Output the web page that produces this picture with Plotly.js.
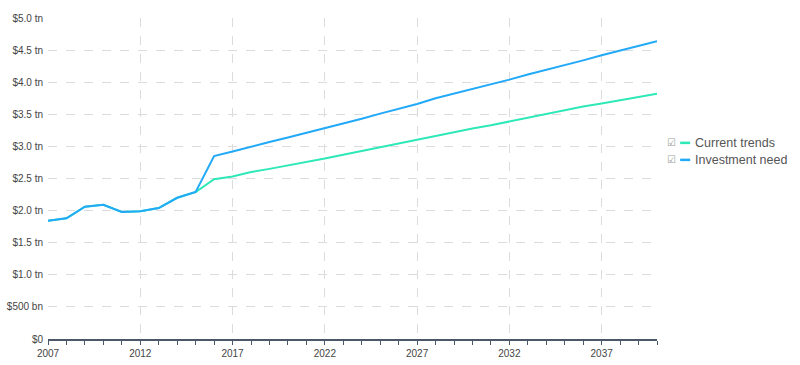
<!DOCTYPE html>
<html><head><meta charset="utf-8">
<script src="https://cdn.plot.ly/plotly-3.0.1.min.js"></script>
<style>body{margin:0;background:#fff}#c{width:800px;height:365px}</style>
</head><body><div id="c"></div>
<script>
const years = [2007,2008,2009,2010,2011,2012,2013,2014,2015,2016,2017,2018,2019,2020,2021,2022,2023,2024,2025,2026,2027,2028,2029,2030,2031,2032,2033,2034,2035,2036,2037,2038,2039,2040];
const currentTrends = [1.84,1.88,2.06,2.09,1.98,1.99,2.04,2.20,2.29,2.49,2.53,2.60,2.65,2.70,2.75,2.81,2.87,2.93,2.98,3.04,3.10,3.17,3.22,3.28,3.33,3.39,3.45,3.51,3.56,3.62,3.67,3.72,3.77,3.82];
const investmentNeed = [1.84,1.88,2.06,2.09,1.98,1.99,2.04,2.20,2.29,2.85,2.92,3.00,3.07,3.14,3.21,3.28,3.36,3.43,3.51,3.58,3.66,3.75,3.82,3.89,3.97,4.04,4.12,4.19,4.27,4.34,4.42,4.49,4.57,4.64];
const yTickVals = [0,0.5,1,1.5,2,2.5,3,3.5,4,4.5,5];
const yTickText = ["$0","$500 bn","$1.0 tn","$1.5 tn","$2.0 tn","$2.5 tn","$3.0 tn","$3.5 tn","$4.0 tn","$4.5 tn","$5.0 tn"];
const xTickVals = [2007,2012,2017,2022,2027,2032,2037];
const seriesNames = ["Current trends","Investment need"];
const seriesColors = ["#2ee8b8","#22a9f7"];

const traces = [
  {x: years, y: currentTrends, name: seriesNames[0], type:'scatter', mode:'lines', line:{color:seriesColors[0], width:2}},
  {x: years, y: investmentNeed, name: seriesNames[1], type:'scatter', mode:'lines', line:{color:seriesColors[1], width:2}}
];

const legY = [0.611, 0.558];
const shapes = [];
const annotations = [];
seriesNames.forEach((n,i)=>{
  shapes.push({type:'line', xref:'paper', yref:'paper', x0:1.038, x1:1.0545, y0:legY[i], y1:legY[i], line:{color:seriesColors[i], width:2.5}});
  annotations.push({xref:'paper', yref:'paper', x:1.0235, y:legY[i], text:'☑', showarrow:false, xanchor:'center', yanchor:'middle', font:{family:'DejaVu Sans', size:10, color:'#999'}});
  annotations.push({xref:'paper', yref:'paper', x:1.059, y:legY[i], text:n, showarrow:false, xanchor:'left', yanchor:'middle', font:{family:'Liberation Sans, Arial', size:12.5, color:'#555'}});
});

const layout = {
  width:800, height:365,
  margin:{l:48, r:143, t:18, b:26},
  paper_bgcolor:'#fff', plot_bgcolor:'#fff',
  showlegend:false,
  font:{family:'Liberation Sans, Arial', size:10, color:'#444'},
  xaxis:{range:[2007,2040], tickvals:xTickVals, ticktext:xTickVals.map(String),
    showgrid:true, gridcolor:'#dcdcdc', griddash:'dash', gridwidth:1,
    zeroline:false, showline:true, linecolor:'#4a5868', linewidth:1.5,
    ticks:'outside', ticklen:4, tickcolor:'#4a5868',
    minor:{dtick:1, ticks:'outside', ticklen:4, tickcolor:'#4a5868', showgrid:false},
    tickfont:{size:10, color:'#444'}},
  yaxis:{range:[0,5], tickvals:yTickVals, ticktext:yTickText,
    showgrid:true, gridcolor:'#dcdcdc', griddash:'dash', gridwidth:1,
    zeroline:false, showline:false, ticks:'', ticklabelstandoff:4,
    tickfont:{size:10, color:'#444'}},
  shapes: shapes,
  annotations: annotations
};
Plotly.newPlot('c', traces, layout, {displayModeBar:false, staticPlot:true});
</script></body></html>
